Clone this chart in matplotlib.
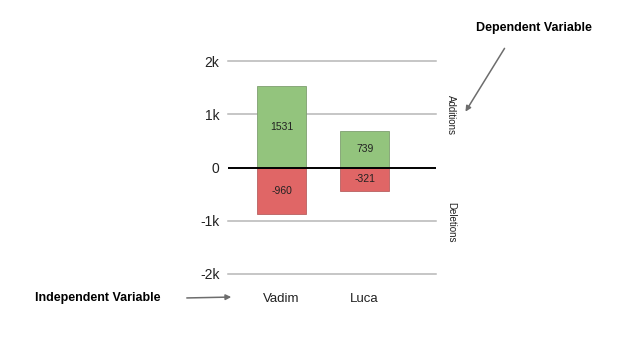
import matplotlib.pyplot as plt
from matplotlib.patches import FancyArrowPatch

plt.rcParams['font.family'] = ['Liberation Sans', 'DejaVu Sans']

# Data
people = ["Vadim", "Luca"]
additions = [1540, 690]
deletions = [-865, -445]
addition_labels = ["1531", "739"]
deletion_labels = ["-960", "-321"]
ticks = [-2000, -1000, 0, 1000, 2000]
tick_labels = ["-2k", "-1k", "0", "1k", "2k"]

fig = plt.figure(figsize=(6.38, 3.59), dpi=100)
ax = fig.add_axes([0.358, 0.222, 0.3255, 0.622])

x = list(range(len(people)))

# Gridlines
for t in ticks:
    if t == 0:
        continue
    ax.axhline(t, color="#b7b7b7", lw=1.1, zorder=1, clip_on=False)

# Bars
ax.bar(x, additions, width=0.59, color="#93c47d", edgecolor="#7f9f70", lw=0.6, zorder=2)
ax.bar(x, deletions, width=0.59, color="#e06666", edgecolor="#b86060", lw=0.6, zorder=2)
ax.axhline(0, color="black", lw=1.4, zorder=3)

# Values in the middle of each bar
for i, h, lab in zip(x, additions, addition_labels):
    ax.text(i, h / 2, lab, ha='center', va='center', fontsize=7.5, color="#222222", zorder=4)
for i, h, lab in zip(x, deletions, deletion_labels):
    ax.text(i, h / 2, lab, ha='center', va='center', fontsize=7.5, color="#222222", zorder=4)

ax.set_xlim(-0.64, 1.86)
ax.set_ylim(-2100, 2100)
ax.set_yticks(ticks)
ax.set_yticklabels(tick_labels, fontsize=10, color="#222222")
ax.set_xticks(x)
ax.set_xticklabels(people, fontsize=9.5, color="#222222")
ax.tick_params(length=0, axis='y', pad=6.5)
ax.tick_params(length=0, axis='x', pad=10)
for s in ax.spines.values():
    s.set_visible(False)

# Side labels
fig.text(451 / 638, 1 - 115 / 359, "Additions", rotation=270, ha='center', va='center', fontsize=7, color="#222222")
fig.text(451 / 638, 1 - 222 / 359, "Deletions", rotation=270, ha='center', va='center', fontsize=7, color="#222222")

# Annotations
fig.text(98 / 638, 1 - 298 / 359, "Independent Variable", ha='center', va='center',
         fontsize=9, fontweight='bold', color="black")
fig.text(534 / 638, 1 - 28 / 359, "Dependent Variable", ha='center', va='center',
         fontsize=9, fontweight='bold', color="black")
fig.add_artist(FancyArrowPatch(
    (184 / 638, 1 - 298 / 359), (234 / 638, 1 - 297 / 359), transform=fig.transFigure,
    arrowstyle='-|>', mutation_scale=8, color="#6d6d6d", lw=1.1))
fig.add_artist(FancyArrowPatch(
    (506 / 638, 1 - 46 / 359), (464 / 638, 1 - 114 / 359), transform=fig.transFigure,
    arrowstyle='-|>', mutation_scale=8, color="#6d6d6d", lw=1.1))

plt.savefig("out.png", dpi=100)
plt.close()
